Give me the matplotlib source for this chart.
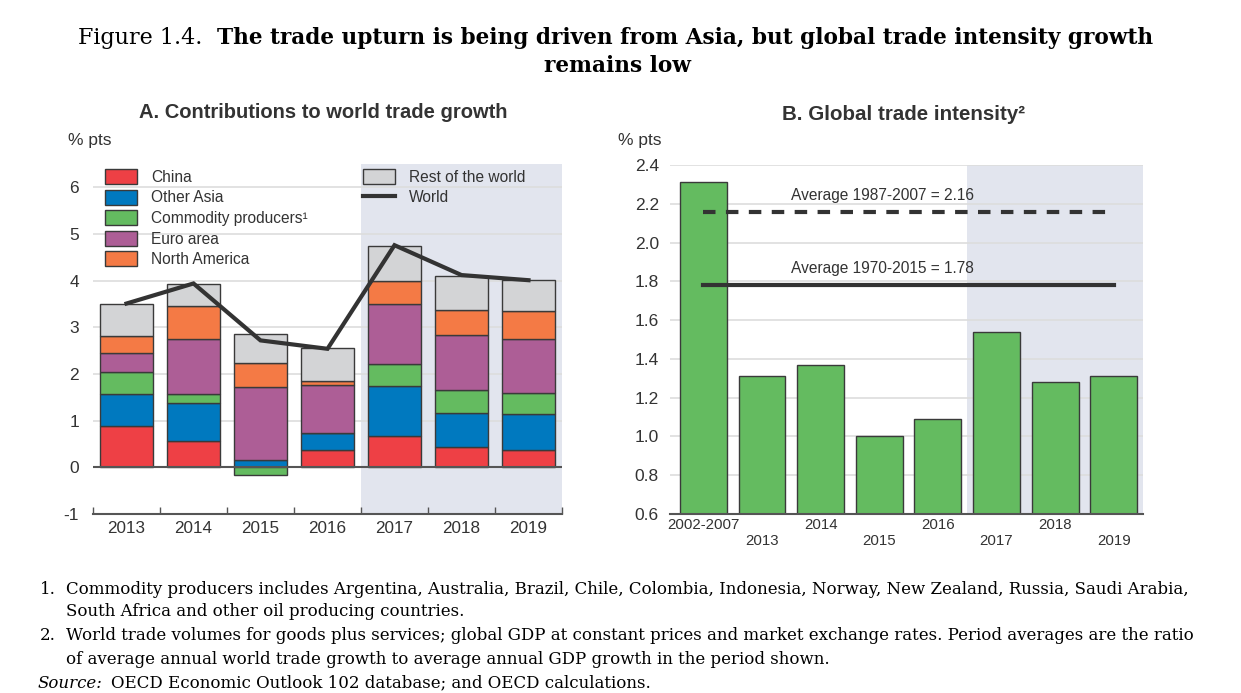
import matplotlib
matplotlib.use('Agg')
import matplotlib.pyplot as plt
from matplotlib.patches import Patch
from matplotlib.lines import Line2D
import numpy as np

plt.rcParams['font.family'] = ['Liberation Sans', 'DejaVu Sans']
plt.rcParams['axes.unicode_minus'] = False

# Panel A: contributions to world trade growth (% pts)
years = ['2013', '2014', '2015', '2016', '2017', '2018', '2019']
china = [0.88, 0.56, 0.00, 0.38, 0.68, 0.44, 0.38]
other_asia = [0.69, 0.82, 0.16, 0.36, 1.06, 0.72, 0.77]
commodity = [0.47, 0.19, -0.16, 0.00, 0.48, 0.49, 0.44]
euro_area = [0.42, 1.19, 1.56, 1.02, 1.27, 1.19, 1.15]
north_america = [0.35, 0.70, 0.52, 0.10, 0.51, 0.54, 0.62]
rest_of_world = [0.70, 0.47, 0.62, 0.69, 0.74, 0.72, 0.65]
world = [3.51, 3.94, 2.72, 2.54, 4.76, 4.12, 4.01]

# Panel B: global trade intensity
periods = ['2002-2007', '2013', '2014', '2015', '2016', '2017', '2018', '2019']
intensity = [2.31, 1.31, 1.37, 1.00, 1.09, 1.54, 1.28, 1.31]
avg_1987_2007 = 2.16
avg_1970_2015 = 1.78

c_china = '#ee4045'
c_asia = '#0079bf'
c_comm = '#64bb60'
c_euro = '#ad5e96'
c_na = '#f47a45'
c_row = '#d3d4d6'
c_world = '#333333'
c_shade = '#e2e5ee'
c_grid = '#dddddd'
c_edge = '#3a3a3a'
c_text = '#333333'

W, H = 1241, 693
fig = plt.figure(figsize=(W / 100, H / 100), dpi=100)


def px_axes(x0, y0, x1, y1):
    return fig.add_axes([x0 / W, 1 - y1 / H, (x1 - x0) / W, (y1 - y0) / H])


# ---------- Panel A ----------
ax = px_axes(93, 164, 562, 514)
x = np.arange(len(years))
ax.axvspan(3.5, 6.6, color=c_shade, zorder=0, lw=0)
for yv in range(0, 7):
    ax.axhline(yv, color=c_grid if yv else '#555555', lw=1.2 if yv else 1.5,
               zorder=1 if yv else 3)

series = [(china, c_china), (other_asia, c_asia), (commodity, c_comm),
          (euro_area, c_euro), (north_america, c_na), (rest_of_world, c_row)]
pos_base = np.zeros(len(years))
neg_base = np.zeros(len(years))
for vals, col in series:
    vals = np.array(vals)
    bottoms = np.where(vals >= 0, pos_base, neg_base)
    ax.bar(x, vals, 0.8, bottom=bottoms, color=col, edgecolor=c_edge,
           linewidth=1.0, zorder=2)
    pos_base = pos_base + np.clip(vals, 0, None)
    neg_base = neg_base + np.clip(vals, None, 0)

ax.plot(x, world, color=c_world, lw=3, zorder=4, solid_joinstyle='miter')

ax.set_xlim(-0.5, 6.5)
ax.set_ylim(-1, 6.5)
ax.set_yticks(range(-1, 7))
ax.set_xticks(x)
ax.set_xticklabels(years)
ax.set_xticks(np.arange(-0.5, 7, 1), minor=True)
ax.tick_params(axis='x', which='major', length=0, labelsize=12.3, pad=5,
               labelcolor=c_text)
ax.tick_params(axis='x', which='minor', direction='in', length=5,
               color='#555555', width=1)
ax.tick_params(axis='y', length=0, labelsize=12.5, pad=10, labelcolor=c_text)
for s in ['top', 'right', 'left']:
    ax.spines[s].set_visible(False)
ax.spines['bottom'].set_color('#555555')
ax.spines['bottom'].set_linewidth(1.5)

leg_kw = dict(loc='upper left', frameon=False, fontsize=11.2, handlelength=2.1,
              handleheight=1.1, labelspacing=0.31, handletextpad=0.9,
              borderaxespad=0.2)
leg1 = ax.legend(
    handles=[Patch(facecolor=c, edgecolor=c_edge, label=l) for c, l in
             [(c_china, 'China'), (c_asia, 'Other Asia'),
              (c_comm, 'Commodity producers¹'), (c_euro, 'Euro area'),
              (c_na, 'North America')]],
    bbox_to_anchor=(0.005, 1.012), **leg_kw)
for t in leg1.get_texts():
    t.set_color(c_text)
ax.add_artist(leg1)
leg2 = ax.legend(
    handles=[Patch(facecolor=c_row, edgecolor=c_edge, label='Rest of the world'),
             Line2D([], [], color=c_world, lw=3, label='World')],
    bbox_to_anchor=(0.555, 1.012), **leg_kw)
for t in leg2.get_texts():
    t.set_color(c_text)

# ---------- Panel B ----------
bx = px_axes(670, 165, 1143, 514)
xb = np.arange(len(periods))
bx.axvspan(4.5, 7.6, color=c_shade, zorder=0, lw=0)
for yv in np.arange(0.6, 2.41, 0.2):
    bx.axhline(yv, color=c_grid, lw=1.2, zorder=1)
bx.bar(xb, intensity, 0.8, color=c_comm, edgecolor=c_edge, linewidth=1.0,
       zorder=2)
bx.plot([0, 7], [avg_1987_2007] * 2, color=c_world, lw=3, ls=(0, (3, 2.5)),
        zorder=3)
bx.plot([0, 7], [avg_1970_2015] * 2, color=c_world, lw=3, zorder=3)
bx.text(1.5, avg_1987_2007 + 0.045, 'Average 1987-2007 = 2.16', fontsize=11.2,
        color=c_text, va='bottom', ha='left')
bx.text(1.5, avg_1970_2015 + 0.045, 'Average 1970-2015 = 1.78', fontsize=11.2,
        color=c_text, va='bottom', ha='left')

bx.set_xlim(-0.57, 7.5)
bx.set_ylim(0.6, 2.4)
bx.set_yticks(np.arange(0.6, 2.41, 0.2))
bx.set_yticklabels([f'{v:.1f}' for v in np.arange(0.6, 2.41, 0.2)])
bx.set_xticks(xb)
bx.set_xticklabels([p if i % 2 == 0 else '\n' + p for i, p in enumerate(periods)])
bx.tick_params(axis='x', direction='in', length=5, color='#555555',
               labelsize=10.8, pad=3, labelcolor=c_text)
bx.tick_params(axis='y', length=0, labelsize=12.5, pad=8, labelcolor=c_text)
for s in ['top', 'right', 'left']:
    bx.spines[s].set_visible(False)
bx.spines['bottom'].set_color('#555555')
bx.spines['bottom'].set_linewidth(1.5)

# ---------- Text ----------
fig.text(68 / W, 1 - 141 / H, '% pts', fontsize=12.5, color=c_text, va='center')
fig.text(618 / W, 1 - 141 / H, '% pts', fontsize=12.5, color=c_text, va='center')
fig.text(323 / W, 1 - 113 / H, 'A. Contributions to world trade growth',
         fontsize=14.5, fontweight='bold', color=c_text, ha='center', va='center')
fig.text(903 / W, 1 - 115 / H, 'B. Global trade intensity²',
         fontsize=14.8, fontweight='bold', color=c_text, ha='center', va='center')

fig.text(78 / W, 1 - 38 / H, 'Figure 1.4.', fontsize=16, family='DejaVu Serif',
         va='center', ha='left')
fig.text(217 / W, 1 - 38 / H,
         'The trade upturn is being driven from Asia, but global trade intensity growth',
         fontsize=15.6, family='DejaVu Serif', fontweight='bold', va='center',
         ha='left')
fig.text(617 / W, 1 - 66 / H, 'remains low', fontsize=15.6,
         family='DejaVu Serif', fontweight='bold', va='center', ha='center')

notes = [
    (40, 589, '1.'), (66, 589, 'Commodity producers includes Argentina, Australia, Brazil, Chile, Colombia, Indonesia, Norway, New Zealand, Russia, Saudi Arabia,'),
    (66, 611, 'South Africa and other oil producing countries.'),
    (40, 635, '2.'), (66, 635, 'World trade volumes for goods plus services; global GDP at constant prices and market exchange rates. Period averages are the ratio'),
    (66, 659, 'of average annual world trade growth to average annual GDP growth in the period shown.'),
]
for nx, ny, s in notes:
    fig.text(nx / W, 1 - ny / H, s, fontsize=12, family='DejaVu Serif',
             va='center', ha='left')
src = fig.text(38 / W, 1 - 683 / H, 'Source:', fontsize=12, family='DejaVu Serif',
               style='italic', va='center', ha='left')
fig.canvas.draw()
src_right = src.get_window_extent().x1
fig.text((src_right + 8) / W, 1 - 683 / H,
         'OECD Economic Outlook 102 database; and OECD calculations.',
         fontsize=12, family='DejaVu Serif', va='center', ha='left')

fig.savefig('out.png', dpi=100)
